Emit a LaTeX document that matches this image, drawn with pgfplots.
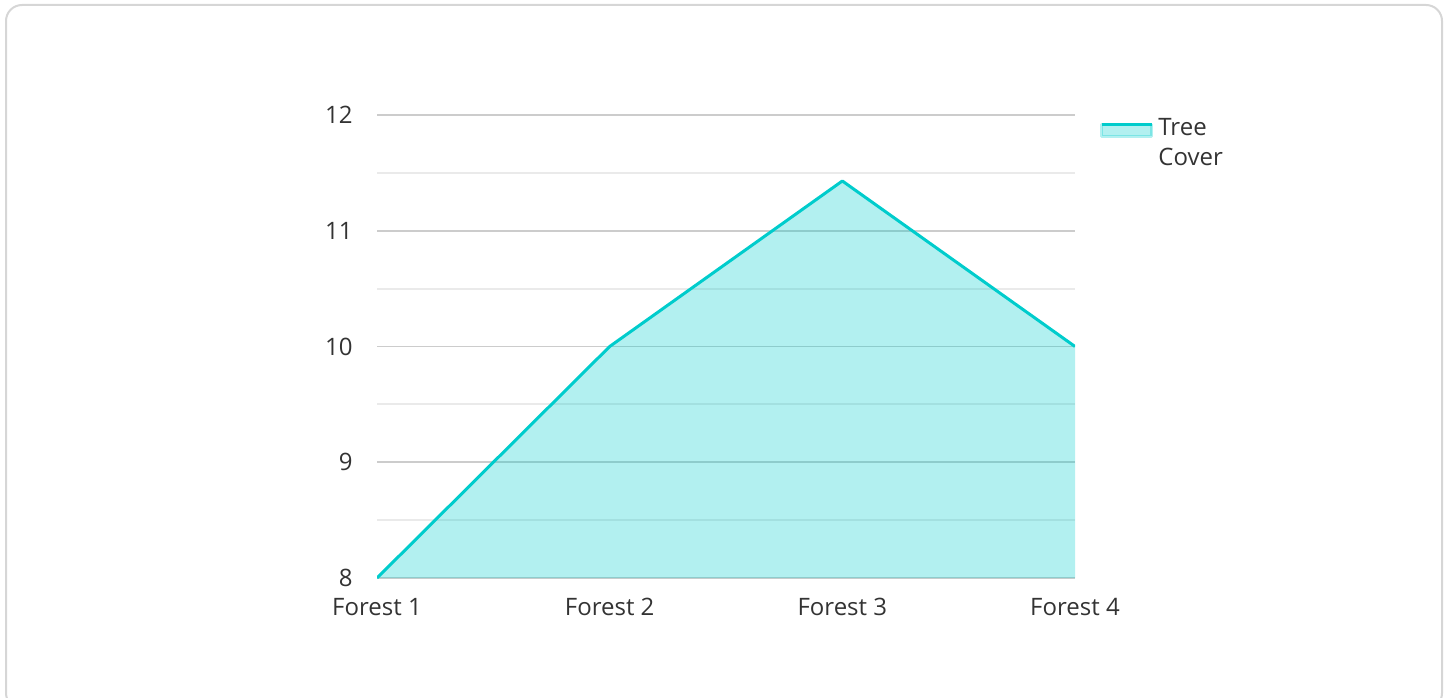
\documentclass[border=0pt]{standalone}
\usepackage{pgfplots}
\pgfplotsset{compat=1.18}
\usepackage{fontspec}
\setmainfont{Open Sans}
\definecolor{linec}{RGB}{0,204,204}
\definecolor{gridmaj}{RGB}{204,204,204}
\definecolor{gridmin}{RGB}{234,234,234}
\definecolor{framec}{RGB}{214,214,214}
\definecolor{txt}{RGB}{51,51,51}
\begin{document}
\begin{tikzpicture}
\useasboundingbox (0,0) rectangle (724.5pt,348.5pt);
\clip (0,0) rectangle (724.5pt,348.5pt);
\draw[framec, line width=1pt, rounded corners=8pt] (3pt,346pt) rectangle (721pt,-6pt);
\begin{axis}[
  at={(188.5pt,59.5pt)}, anchor=south west,
  scale only axis, width=349pt, height=231.5pt,
  xmin=0, xmax=3, ymin=8, ymax=12,
  xtick={0,1,2,3}, xticklabels={Forest 1,Forest 2,Forest 3,Forest 4},
  ytick={8,9,10,11,12}, minor y tick num=1,
  ymajorgrids, yminorgrids,
  major grid style={gridmaj, line width=0.9pt},
  minor grid style={gridmin, line width=0.9pt},
  axis line style={draw=none},
  major tick length=0pt, minor tick length=0pt,
  tick label style={font=\fontsize{12}{14}\selectfont, text=txt},
  /pgf/number format/assume math mode=true,
  yticklabel style={anchor=east, inner sep=0pt, xshift=-12pt},
  xticklabel style={anchor=base, inner sep=0pt, yshift=-18.5pt},
  clip=true,
  legend style={at={(1.0358,0.9935)}, anchor=north west, draw=none, fill=none,
    inner sep=0pt, column sep=2.5pt,
    nodes={inner sep=0pt, align=left, font=\fontsize{12}{15}\selectfont, text=txt}},
  legend cell align=left,
]
\addplot[draw=none, fill=linec, fill opacity=0.3, forget plot] coordinates {(0,8) (1,10) (2,11.43) (3,10) (3,8)} \closedcycle;
\addplot[linec, line width=1.5pt, line join=round,
  legend image code/.code={
    \fill[linec, opacity=0.3] (0pt,3.5pt) rectangle (25pt,9.5pt);
    \draw[linec, line width=1.5pt] (0pt,9.5pt) -- (25pt,9.5pt);
  }] coordinates {(0,8) (1,10) (2,11.43) (3,10)};
\addlegendentry{Tree\\Cover}
\end{axis}
\end{tikzpicture}
\end{document}
